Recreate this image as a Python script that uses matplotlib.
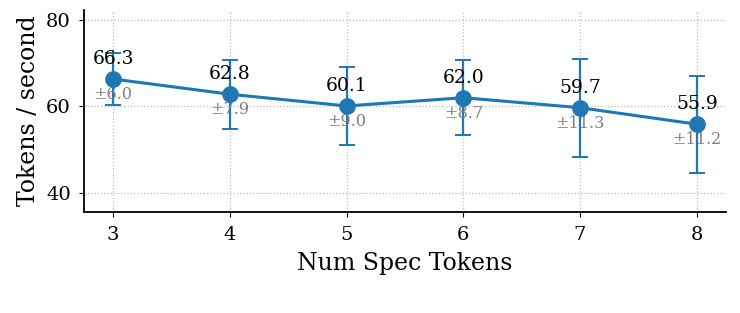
import matplotlib
matplotlib.use("Agg")
import matplotlib.pyplot as plt

plt.rcParams['font.family'] = ['DejaVu Serif']

spec_tokens = [3, 4, 5, 6, 7, 8]
tokens_per_sec = [66.3, 62.8, 60.1, 62.0, 59.7, 55.9]
std_devs = [6.0, 7.9, 9.0, 8.7, 11.3, 11.2]

fig = plt.figure(figsize=(7.4, 3.13), dpi=100)
ax = fig.add_axes([0.1135, 0.3215, 0.8675, 0.648])

color = '#1f77b4'
ax.errorbar(spec_tokens, tokens_per_sec, yerr=std_devs, fmt='-o', color=color,
            linewidth=2.2, markersize=11, capsize=6, elinewidth=1.6, capthick=1.4, zorder=3)

for x, y, s in zip(spec_tokens, tokens_per_sec, std_devs):
    ax.annotate(f"{y:.1f}", (x, y), textcoords='offset points', xytext=(0, 8),
                ha='center', va='bottom', fontsize=13.5, color='black')
    ax.annotate(f"±{s:.1f}", (x, y), textcoords='offset points', xytext=(0, -5),
                ha='center', va='top', fontsize=11.5, color='gray')

ax.set_xlim(2.75, 8.25)
ax.set_ylim(35.6, 82.3)
ax.set_xticks(spec_tokens)
ax.set_yticks([40, 60, 80])
ax.tick_params(labelsize=14, pad=6)
ax.set_xlabel('Num Spec Tokens', fontsize=17, labelpad=6)
ax.set_ylabel('Tokens / second', fontsize=17)
ax.grid(True, linestyle=':', color='#bbbbbb', linewidth=0.9)
ax.spines['top'].set_visible(False)
ax.spines['right'].set_visible(False)
ax.spines['left'].set_linewidth(1.3)
ax.spines['bottom'].set_linewidth(1.3)

fig.savefig('out.png', dpi=100)
